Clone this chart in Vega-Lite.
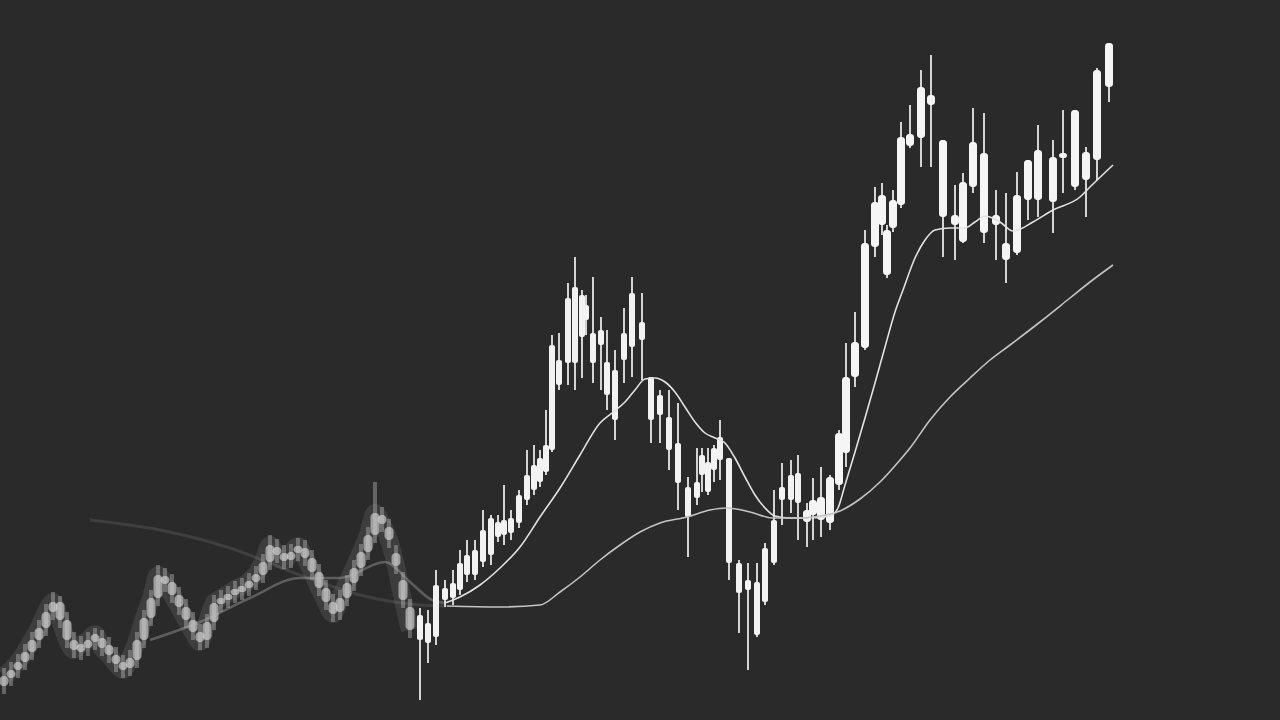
{
  "$schema": "https://vega.github.io/schema/vega-lite/v6.json",
  "autosize": {"type": "none"},
  "width": 1280,
  "height": 720,
  "padding": 0,
  "background": "#2a2a2a",
  "config": {"view": {"stroke": null}},
  "datasets": {
    "candles": [
      {"t":4,"o":686,"c":676,"h":668,"l":694},
      {"t":11,"o":678,"c":670,"h":662,"l":686},
      {"t":18,"o":670,"c":662,"h":654,"l":678},
      {"t":25,"o":662,"c":652,"h":644,"l":670},
      {"t":32,"o":652,"c":640,"h":632,"l":660},
      {"t":39,"o":640,"c":628,"h":620,"l":648},
      {"t":46,"o":628,"c":612,"h":604,"l":636},
      {"t":53,"o":612,"c":602,"h":592,"l":620},
      {"t":60,"o":602,"c":620,"h":596,"l":628},
      {"t":67,"o":620,"c":640,"h":612,"l":648},
      {"t":74,"o":640,"c":650,"h":632,"l":658},
      {"t":81,"o":652,"c":644,"h":636,"l":660},
      {"t":88,"o":648,"c":640,"h":632,"l":656},
      {"t":95,"o":642,"c":634,"h":628,"l":650},
      {"t":102,"o":638,"c":648,"h":630,"l":656},
      {"t":109,"o":645,"c":655,"h":637,"l":663},
      {"t":116,"o":655,"c":664,"h":647,"l":672},
      {"t":123,"o":662,"c":670,"h":655,"l":678},
      {"t":130,"o":668,"c":658,"h":650,"l":676},
      {"t":137,"o":660,"c":640,"h":632,"l":668},
      {"t":144,"o":640,"c":618,"h":610,"l":648},
      {"t":151,"o":618,"c":598,"h":590,"l":626},
      {"t":158,"o":598,"c":575,"h":565,"l":606},
      {"t":165,"o":576,"c":584,"h":568,"l":592},
      {"t":172,"o":582,"c":595,"h":574,"l":603},
      {"t":179,"o":595,"c":607,"h":587,"l":615},
      {"t":186,"o":607,"c":620,"h":599,"l":628},
      {"t":193,"o":620,"c":632,"h":612,"l":640},
      {"t":200,"o":632,"c":642,"h":624,"l":650},
      {"t":207,"o":640,"c":622,"h":614,"l":648},
      {"t":214,"o":622,"c":603,"h":595,"l":630},
      {"t":221,"o":604,"c":598,"h":590,"l":612},
      {"t":228,"o":600,"c":594,"h":586,"l":608},
      {"t":235,"o":595,"c":589,"h":581,"l":603},
      {"t":242,"o":592,"c":586,"h":578,"l":600},
      {"t":249,"o":588,"c":581,"h":573,"l":596},
      {"t":256,"o":582,"c":574,"h":566,"l":590},
      {"t":263,"o":575,"c":562,"h":554,"l":583},
      {"t":270,"o":562,"c":545,"h":535,"l":570},
      {"t":277,"o":547,"c":555,"h":539,"l":563},
      {"t":284,"o":553,"c":561,"h":545,"l":569},
      {"t":291,"o":560,"c":552,"h":544,"l":568},
      {"t":298,"o":553,"c":546,"h":538,"l":561},
      {"t":305,"o":548,"c":558,"h":540,"l":566},
      {"t":312,"o":558,"c":572,"h":550,"l":580},
      {"t":319,"o":572,"c":588,"h":564,"l":596},
      {"t":326,"o":588,"c":602,"h":580,"l":610},
      {"t":333,"o":602,"c":614,"h":594,"l":622},
      {"t":340,"o":612,"c":598,"h":590,"l":620},
      {"t":347,"o":598,"c":583,"h":575,"l":606},
      {"t":354,"o":583,"c":568,"h":560,"l":591},
      {"t":361,"o":568,"c":552,"h":544,"l":576},
      {"t":368,"o":552,"c":535,"h":527,"l":560},
      {"t":375,"o":535,"c":513,"h":482,"l":543},
      {"t":382,"o":515,"c":524,"h":507,"l":532},
      {"t":389,"o":527,"c":540,"h":519,"l":548},
      {"t":396,"o":553,"c":566,"h":545,"l":574},
      {"t":403,"o":580,"c":600,"h":572,"l":608},
      {"t":410,"o":607,"c":630,"h":599,"l":638},
      {"t":420,"o":615,"c":640,"h":608,"l":700},
      {"t":428,"o":623,"c":643,"h":610,"l":663},
      {"t":436,"o":637,"c":585,"h":570,"l":645},
      {"t":445,"o":600,"c":588,"h":580,"l":607},
      {"t":453,"o":598,"c":583,"h":570,"l":605},
      {"t":460,"o":590,"c":563,"h":550,"l":595},
      {"t":467,"o":575,"c":555,"h":540,"l":582},
      {"t":475,"o":575,"c":550,"h":540,"l":580},
      {"t":483,"o":562,"c":530,"h":510,"l":567},
      {"t":491,"o":555,"c":518,"h":515,"l":565},
      {"t":498,"o":537,"c":522,"h":515,"l":542},
      {"t":504,"o":535,"c":520,"h":485,"l":545},
      {"t":511,"o":533,"c":518,"h":510,"l":540},
      {"t":519,"o":523,"c":495,"h":490,"l":528},
      {"t":527,"o":500,"c":475,"h":450,"l":505},
      {"t":534,"o":490,"c":465,"h":445,"l":495},
      {"t":540,"o":482,"c":458,"h":450,"l":487},
      {"t":546,"o":472,"c":445,"h":410,"l":475},
      {"t":552,"o":450,"c":345,"h":335,"l":452},
      {"t":559,"o":360,"c":385,"h":333,"l":390},
      {"t":568,"o":363,"c":298,"h":283,"l":385},
      {"t":575,"o":287,"c":363,"h":257,"l":390},
      {"t":582,"o":295,"c":337,"h":290,"l":378},
      {"t":586,"o":305,"c":320,"h":295,"l":335},
      {"t":593,"o":363,"c":333,"h":277,"l":383},
      {"t":601,"o":330,"c":345,"h":317,"l":390},
      {"t":607,"o":362,"c":395,"h":330,"l":410},
      {"t":615,"o":370,"c":420,"h":350,"l":440},
      {"t":624,"o":360,"c":333,"h":308,"l":383},
      {"t":632,"o":347,"c":293,"h":277,"l":377},
      {"t":642,"o":322,"c":340,"h":293,"l":380},
      {"t":651,"o":377,"c":420,"h":377,"l":443},
      {"t":660,"o":395,"c":415,"h":390,"l":443},
      {"t":669,"o":417,"c":450,"h":390,"l":470},
      {"t":678,"o":443,"c":483,"h":403,"l":510},
      {"t":688,"o":487,"c":517,"h":477,"l":557},
      {"t":697,"o":498,"c":482,"h":448,"l":505},
      {"t":702,"o":475,"c":455,"h":448,"l":492},
      {"t":708,"o":492,"c":462,"h":448,"l":495},
      {"t":714,"o":470,"c":448,"h":445,"l":482},
      {"t":720,"o":460,"c":437,"h":420,"l":480},
      {"t":729,"o":458,"c":563,"h":458,"l":580},
      {"t":739,"o":563,"c":593,"h":560,"l":633},
      {"t":748,"o":580,"c":590,"h":563,"l":670},
      {"t":757,"o":635,"c":582,"h":563,"l":637},
      {"t":765,"o":602,"c":548,"h":543,"l":605},
      {"t":774,"o":563,"c":520,"h":490,"l":565},
      {"t":782,"o":500,"c":487,"h":463,"l":525},
      {"t":791,"o":500,"c":475,"h":460,"l":513},
      {"t":798,"o":503,"c":473,"h":455,"l":540},
      {"t":807,"o":522,"c":510,"h":503,"l":547},
      {"t":813,"o":515,"c":500,"h":478,"l":540},
      {"t":821,"o":520,"c":497,"h":467,"l":537},
      {"t":830,"o":523,"c":477,"h":475,"l":530},
      {"t":839,"o":485,"c":433,"h":430,"l":490},
      {"t":846,"o":453,"c":377,"h":343,"l":467},
      {"t":855,"o":377,"c":342,"h":312,"l":387},
      {"t":865,"o":348,"c":243,"h":230,"l":350},
      {"t":875,"o":247,"c":202,"h":187,"l":257},
      {"t":882,"o":225,"c":195,"h":183,"l":235},
      {"t":887,"o":230,"c":275,"h":225,"l":278},
      {"t":893,"o":228,"c":200,"h":190,"l":232},
      {"t":901,"o":205,"c":137,"h":122,"l":208},
      {"t":910,"o":146,"c":134,"h":105,"l":148},
      {"t":921,"o":138,"c":87,"h":70,"l":167},
      {"t":931,"o":95,"c":105,"h":55,"l":167},
      {"t":943,"o":140,"c":217,"h":140,"l":257},
      {"t":955,"o":215,"c":225,"h":185,"l":260},
      {"t":963,"o":242,"c":182,"h":173,"l":243},
      {"t":973,"o":187,"c":142,"h":108,"l":193},
      {"t":984,"o":153,"c":233,"h":113,"l":243},
      {"t":996,"o":215,"c":225,"h":190,"l":260},
      {"t":1006,"o":243,"c":260,"h":193,"l":283},
      {"t":1017,"o":253,"c":195,"h":172,"l":255},
      {"t":1028,"o":200,"c":160,"h":160,"l":220},
      {"t":1038,"o":200,"c":150,"h":125,"l":217},
      {"t":1053,"o":202,"c":157,"h":140,"l":233},
      {"t":1063,"o":158,"c":153,"h":110,"l":193},
      {"t":1075,"o":187,"c":110,"h":110,"l":190},
      {"t":1086,"o":180,"c":152,"h":147,"l":217},
      {"t":1097,"o":160,"c":70,"h":68,"l":180},
      {"t":1109,"o":87,"c":43,"h":43,"l":102}
    ],
    "ma": [
      {"s":"ma1","t":150,"v":640},{"s":"ma1","t":200,"v":622},{"s":"ma1","t":250,"v":598},{"s":"ma1","t":300,"v":578},
      {"s":"ma1","t":340,"v":578},{"s":"ma1","t":385,"v":562},{"s":"ma1","t":410,"v":582},{"s":"ma1","t":432,"v":600},
      {"s":"ma1","t":445,"v":603},{"s":"ma1","t":460,"v":597},{"s":"ma1","t":480,"v":585},{"s":"ma1","t":500,"v":568},
      {"s":"ma1","t":520,"v":547},{"s":"ma1","t":540,"v":517},{"s":"ma1","t":560,"v":488},{"s":"ma1","t":580,"v":455},
      {"s":"ma1","t":600,"v":423},{"s":"ma1","t":612,"v":413},{"s":"ma1","t":625,"v":402},{"s":"ma1","t":635,"v":390},
      {"s":"ma1","t":645,"v":379},{"s":"ma1","t":655,"v":378},{"s":"ma1","t":665,"v":382},{"s":"ma1","t":675,"v":392},
      {"s":"ma1","t":685,"v":407},{"s":"ma1","t":695,"v":422},{"s":"ma1","t":705,"v":433},{"s":"ma1","t":715,"v":438},
      {"s":"ma1","t":725,"v":443},{"s":"ma1","t":735,"v":458},{"s":"ma1","t":745,"v":477},{"s":"ma1","t":755,"v":495},
      {"s":"ma1","t":765,"v":508},{"s":"ma1","t":775,"v":516},{"s":"ma1","t":790,"v":518},{"s":"ma1","t":810,"v":518},
      {"s":"ma1","t":830,"v":516},{"s":"ma1","t":838,"v":508},{"s":"ma1","t":845,"v":485},{"s":"ma1","t":855,"v":452},
      {"s":"ma1","t":865,"v":418},{"s":"ma1","t":875,"v":383},{"s":"ma1","t":885,"v":347},{"s":"ma1","t":895,"v":312},
      {"s":"ma1","t":903,"v":290},{"s":"ma1","t":915,"v":258},{"s":"ma1","t":925,"v":240},{"s":"ma1","t":935,"v":230},
      {"s":"ma1","t":950,"v":228},{"s":"ma1","t":965,"v":228},{"s":"ma1","t":975,"v":222},{"s":"ma1","t":985,"v":216},
      {"s":"ma1","t":1000,"v":222},{"s":"ma1","t":1013,"v":231},{"s":"ma1","t":1033,"v":222},{"s":"ma1","t":1053,"v":210},
      {"s":"ma1","t":1080,"v":197},{"s":"ma1","t":1090,"v":187},{"s":"ma1","t":1113,"v":165},
      {"s":"ma2","t":90,"v":520},{"s":"ma2","t":160,"v":530},{"s":"ma2","t":230,"v":548},{"s":"ma2","t":300,"v":575},
      {"s":"ma2","t":360,"v":595},{"s":"ma2","t":420,"v":605},{"s":"ma2","t":447,"v":606},{"s":"ma2","t":500,"v":607},
      {"s":"ma2","t":540,"v":605},{"s":"ma2","t":560,"v":592},{"s":"ma2","t":580,"v":577},{"s":"ma2","t":600,"v":560},
      {"s":"ma2","t":620,"v":545},{"s":"ma2","t":640,"v":532},{"s":"ma2","t":660,"v":523},{"s":"ma2","t":687,"v":517},
      {"s":"ma2","t":710,"v":510},{"s":"ma2","t":727,"v":508},{"s":"ma2","t":750,"v":512},{"s":"ma2","t":773,"v":518},
      {"s":"ma2","t":800,"v":518},{"s":"ma2","t":820,"v":516},{"s":"ma2","t":840,"v":511},{"s":"ma2","t":860,"v":499},
      {"s":"ma2","t":880,"v":482},{"s":"ma2","t":900,"v":460},{"s":"ma2","t":910,"v":448},{"s":"ma2","t":930,"v":420},
      {"s":"ma2","t":950,"v":397},{"s":"ma2","t":970,"v":378},{"s":"ma2","t":990,"v":360},{"s":"ma2","t":1010,"v":345},
      {"s":"ma2","t":1040,"v":322},{"s":"ma2","t":1070,"v":298},{"s":"ma2","t":1090,"v":282},{"s":"ma2","t":1113,"v":265}
    ]
  },
  "encoding": {
    "x": {"field": "t", "type": "quantitative", "scale": {"domain": [0, 1280], "nice": false, "zero": false, "padding": 0}, "axis": null},
    "y": {"scale": {"domain": [0, 720], "reverse": true, "nice": false, "zero": false, "padding": 0}, "axis": null}
  },
  "layer": [
    {
      "data": {"name": "candles"},
      "transform": [{"filter": "datum.t < 416"}],
      "mark": {"type": "line", "interpolate": "monotone", "color": "#ffffff", "strokeWidth": 18, "opacity": 0.09},
      "encoding": {"y": {"field": "c", "type": "quantitative", "axis": null}}
    },
    {
      "data": {"name": "candles"},
      "transform": [{"filter": "datum.t < 416"}],
      "mark": {"type": "rule", "color": "#d0d0d0", "strokeWidth": 4, "opacity": 0.35},
      "encoding": {"y": {"field": "h", "type": "quantitative", "axis": null}, "y2": {"field": "l"}}
    },
    {
      "data": {"name": "candles"},
      "transform": [{"filter": "datum.t < 416"}],
      "mark": {"type": "bar", "color": "#dcdcdc", "width": 9, "cornerRadius": 4, "opacity": 0.62},
      "encoding": {"y": {"field": "o", "type": "quantitative", "axis": null}, "y2": {"field": "c"}}
    },
    {
      "data": {"name": "ma"},
      "transform": [{"filter": "datum.t <= 447 && datum.s == 'ma1'"}],
      "mark": {"type": "line", "interpolate": "monotone", "color": "#bdbdbd", "strokeWidth": 2.5, "opacity": 0.35},
      "encoding": {"y": {"field": "v", "type": "quantitative", "axis": null}}
    },
    {
      "data": {"name": "ma"},
      "transform": [{"filter": "datum.t <= 447 && datum.s == 'ma2'"}],
      "mark": {"type": "line", "interpolate": "monotone", "color": "#bdbdbd", "strokeWidth": 3, "opacity": 0.14},
      "encoding": {"y": {"field": "v", "type": "quantitative", "axis": null}}
    },
    {
      "data": {"name": "candles"},
      "transform": [{"filter": "datum.t >= 416"}],
      "mark": {"type": "rule", "color": "#e6e6e6", "strokeWidth": 2, "opacity": 0.9},
      "encoding": {"y": {"field": "h", "type": "quantitative", "axis": null}, "y2": {"field": "l"}}
    },
    {
      "data": {"name": "candles"},
      "transform": [{"filter": "datum.t >= 416 && datum.t < 800"}],
      "mark": {"type": "bar", "color": "#f2f2f2", "width": 6, "cornerRadius": 2},
      "encoding": {"y": {"field": "o", "type": "quantitative", "axis": null}, "y2": {"field": "c"}}
    },
    {
      "data": {"name": "candles"},
      "transform": [{"filter": "datum.t >= 800"}],
      "mark": {"type": "bar", "color": "#f5f5f5", "width": 8, "cornerRadius": 3},
      "encoding": {"y": {"field": "o", "type": "quantitative", "axis": null}, "y2": {"field": "c"}}
    },
    {
      "data": {"name": "ma"},
      "transform": [{"filter": "datum.t >= 445"}],
      "mark": {"type": "line", "interpolate": "monotone", "strokeWidth": 1.6},
      "encoding": {
        "y": {"field": "v", "type": "quantitative", "axis": null},
        "color": {"field": "s", "type": "nominal", "scale": {"domain": ["ma1", "ma2"], "range": ["#e2e2e2", "#c4c4c4"]}, "legend": null}
      }
    }
  ]
}
